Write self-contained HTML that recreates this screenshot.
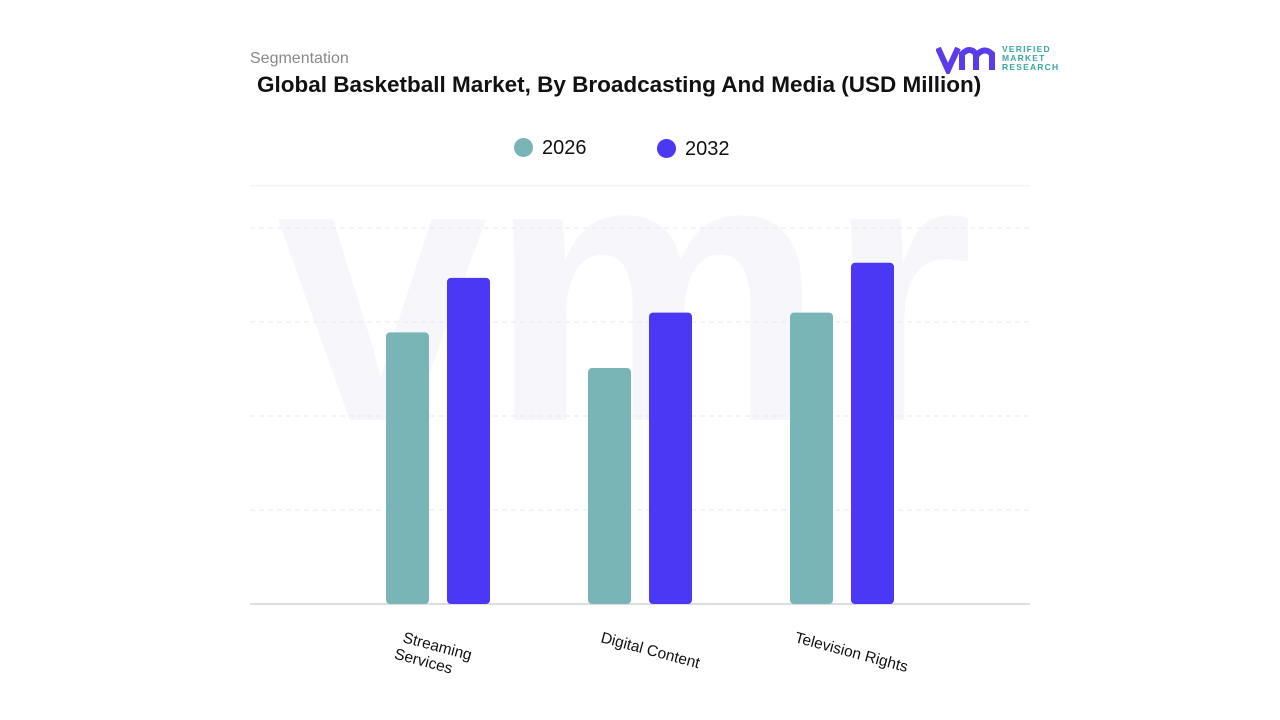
<!DOCTYPE html>
<html><head><meta charset="utf-8"><style>
body{margin:0;width:1280px;height:720px;background:#fff;font-family:"Liberation Sans",sans-serif;overflow:hidden;position:relative}
</style></head><body>
<div style="position:absolute;left:250px;top:50px;font-size:16px;color:#888">Segmentation</div>
<div style="position:absolute;left:257px;top:72px;font-size:22.5px;font-weight:bold;color:#111">Global Basketball Market, By Broadcasting And Media (USD Million)</div>
<div style="position:absolute;left:936px;top:44px;width:130px;height:32px">
<svg width="66" height="30" viewBox="0 0 66 30"><path d="M2 4 L12 26 L22 4 M26 26 V10 Q34 2 40 10 V26 M40 12 Q48 2 56 10 V26" fill="none" stroke="#5b3bea" stroke-width="6"/></svg>
<div style="position:absolute;left:66px;top:1px;font-size:8.5px;line-height:9px;color:#3aa6a0;letter-spacing:1.2px;font-weight:bold">VERIFIED<br>MARKET<br>RESEARCH</div></div>
<div style="position:absolute;left:514px;top:137px;font-size:20px;color:#111"><span style="display:inline-block;width:19px;height:19px;border-radius:50%;background:#79b4b7;vertical-align:-3px;margin-right:9px"></span>2026</div>
<div style="position:absolute;left:657px;top:138px;font-size:20px;color:#111"><span style="display:inline-block;width:19px;height:19px;border-radius:50%;background:#4a38f5;vertical-align:-3px;margin-right:9px"></span>2032</div>
<svg id="chart" width="1280" height="720" style="position:absolute;left:0;top:0">
<text x="625" y="420" font-size="380" font-weight="bold" fill="#f7f7fb" text-anchor="middle" font-family="Liberation Sans">vmr</text>
</svg>
<script>
const categories=["Streaming Services","Digital Content","Television Rights"];
const labelLines=[["Streaming","Services"],["Digital Content"],["Television Rights"]];
const series2026=[2.89,2.51,3.10];
const series2032=[3.47,3.10,3.63];
const gridTicks=[1,2,3,4];
const yMax=4.45;
const svg=document.getElementById('chart');
const NS='http://www.w3.org/2000/svg';
const y0=604,pxPerUnit=94;
const y=v=>y0-v*pxPerUnit;
const groupX=i=>438+i*202;
const labelDx=[-36,-40,-48];
function mk(t,a){const e=document.createElementNS(NS,t);for(const k in a)e.setAttribute(k,a[k]);svg.appendChild(e);return e;}
let l=mk('line',{x1:250,x2:1030,y1:y(yMax),y2:y(yMax),stroke:'#eee','stroke-width':1});


gridTicks.forEach(t=>{const g=mk('line',{x1:250,x2:1030,y1:y(t),y2:y(t),stroke:'#e8e8e8','stroke-dasharray':'5,4'});

});
const ax=mk('line',{x1:250,x2:1030,y1:y0,y2:y0,stroke:'#ddd','stroke-width':2});


categories.forEach((c,i)=>{
 const cx=groupX(i);
 [[series2026[i],cx-52,'#79b4b7','2026'],[series2032[i],cx+9,'#4a38f5','2032']].forEach(([v,x,col,s])=>{
  const r=mk('rect',{x:x,y:y(v),width:43,height:v*pxPerUnit,rx:4,fill:col});
  
  
 });
 const t=mk('text',{transform:`translate(${cx+labelDx[i]},${y0+38}) rotate(15)`,'font-size':15.5,fill:'#111','font-family':'Liberation Sans'});
 
 
 labelLines[i].forEach((ln,j)=>{const ts=document.createElementNS(NS,'tspan');ts.setAttribute('x',j?-4:0);ts.setAttribute('dy',j?18:0);ts.textContent=ln;t.appendChild(ts);});
});
</script>
</body></html>
